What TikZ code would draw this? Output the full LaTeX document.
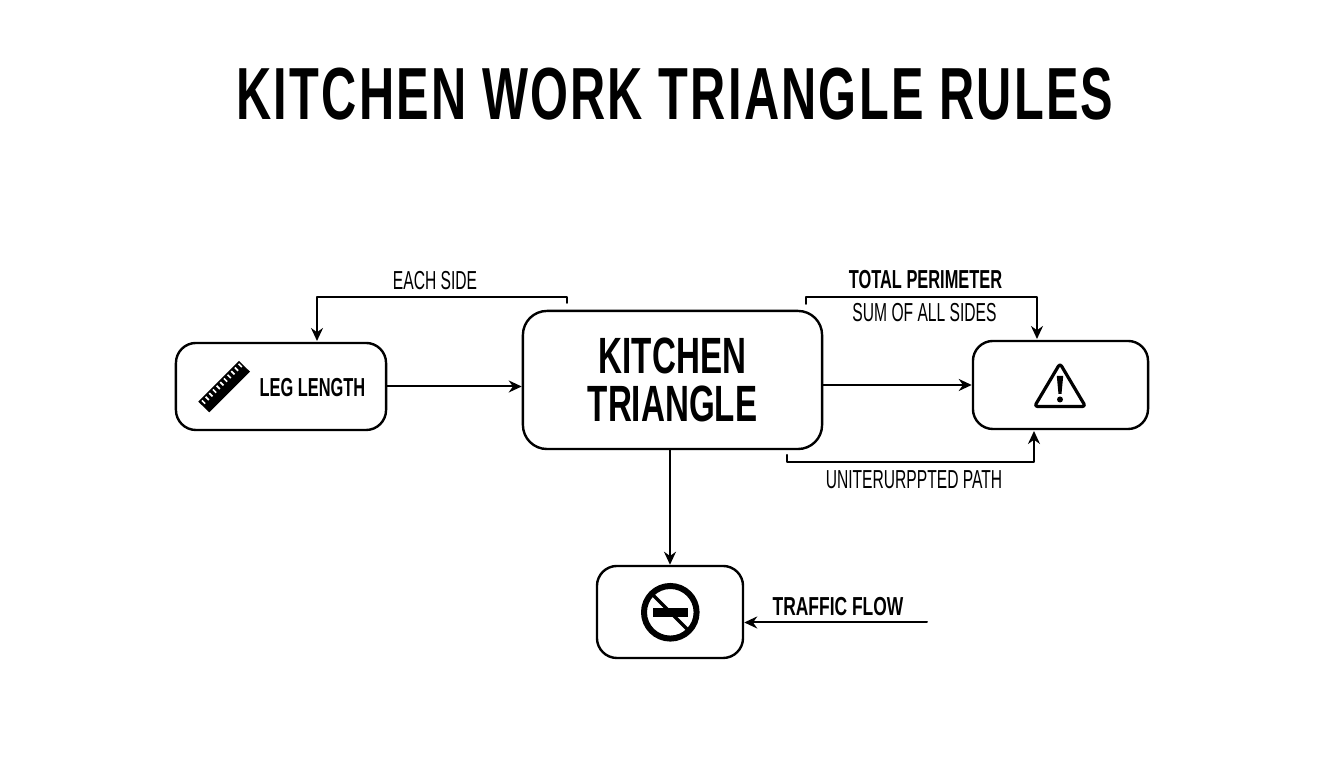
\documentclass[tikz,border=0pt]{standalone}
\usepackage{fontspec}
\usetikzlibrary{arrows.meta,calc}
\newfontfamily\condfont[FakeStretch=0.6]{Liberation Sans}
\newfontfamily\boldfont[FakeStretch=0.63]{Liberation Sans}
\newfontfamily\flowfont[FakeStretch=0.67]{Liberation Sans}
\newfontfamily\bigfont[FakeStretch=0.65]{Liberation Sans}
\newfontfamily\titlefont[FakeStretch=0.66,LetterSpace=3]{Liberation Sans}
\begin{document}
	\begin{tikzpicture}[x=0.01cm, y=-0.01cm, line join=round, line cap=round, >={Stealth[length=0.13cm,width=0.12cm]},
		box/.style={draw, line width=0.024cm, rounded corners=0.2cm, inner sep=0pt},
		link/.style={draw, line width=0.02cm},
		lbl/.style={font=\condfont\fontsize{7.4}{9}\selectfont, inner sep=0pt},
		lblbold/.style={font=\boldfont\bfseries\fontsize{7.4}{9}\selectfont, inner sep=0pt}]
		\useasboundingbox (0,0) rectangle (1344,768);
		\node[font=\titlefont\bfseries\fontsize{21}{25}\selectfont, inner sep=0pt] (title) at (675,94) {KITCHEN WORK TRIANGLE RULES};
		% boxes
		\node[box, minimum width=2.1cm, minimum height=0.87cm] (leg) at (281,386.5) {};
		\node[box, rounded corners=0.24cm, minimum width=2.99cm, minimum height=1.38cm, align=center, font=\bigfont\bfseries\fontsize{14.5}{13.4}\selectfont] (kitchen) at (672.5,380) {KITCHEN\\TRIANGLE};
		\node[box, minimum width=1.75cm, minimum height=0.88cm] (warn) at (1060.5,385) {};
		\node[box, minimum width=1.46cm, minimum height=0.92cm] (ban) at (670,612) {};
		% labels
		\node[lblbold] (leglabel) at (312.5,388) {LEG LENGTH};
		\node[lbl] (eachlabel) at (435,281) {EACH SIDE};
		\node[lblbold] (totallabel) at (925.5,280) {TOTAL PERIMETER};
		\node[lbl] (sumlabel) at (924.5,313) {SUM OF ALL SIDES};
		\node[lbl] (pathlabel) at (914,480) {UNITERURPPTED PATH};
		\node[lblbold, font=\flowfont\bfseries\fontsize{7.4}{9}\selectfont] (trafficlabel) at (838,607) {TRAFFIC FLOW};
		% free ends
		\coordinate (eachstart) at (567,303);
		\coordinate (totalstart) at (806,304);
		\coordinate (pathstart) at (787,455);
		\coordinate (trafficstart) at (927,622.5);
		% connectors
		\draw[link, ->] (leg.east) -- (leg.east -| kitchen.west);
		\draw[link, ->] (kitchen.east |- warn.west) -- (warn.west);
		\draw[link, ->] (kitchen.south -| ban.north) -- (ban.north);
		\draw[link, ->] (eachstart) -- (567,297) -- (317,297) -- (317,341);
		\draw[link, ->] (totalstart) -- (806,297) -- (1037,297) -- (1037,339);
		\draw[link, ->] (pathstart) -- (787,462) -- (1034,462) -- (1034,431);
		\draw[link, ->] (trafficstart) -- (trafficstart -| ban.east);
		% ruler
		\fill (198.3,401.7) -- (209.3,412.3) -- (250,371.7) -- (239,361) -- cycle;
		\foreach \t in {0.06,0.15,...,0.96}
			\draw[white, line width=0.017cm, line cap=butt] ($(198.3,401.7)!\t!(239,361)$) ++(1.2,1.2) -- ++(3.2,3.2);
		% warning sign
		\draw[line width=0.032cm, rounded corners=0.03cm] (1060,363.5) -- (1085.5,406.5) -- (1034.5,406.5) -- cycle;
		\fill (1056.8,376) -- (1063.2,376) -- (1061.5,394) -- (1058.5,394) -- cycle;
		\fill (1060,399.5) circle (3);
		% no entry sign
		\draw[line width=0.06cm] (670.3,612.3) circle (26.3);
		\draw[line width=0.035cm] (651.7,593.7) -- (688.9,630.9);
		\fill (653.3,608.3) rectangle (688.3,617.3);
	\end{tikzpicture}
\end{document}
